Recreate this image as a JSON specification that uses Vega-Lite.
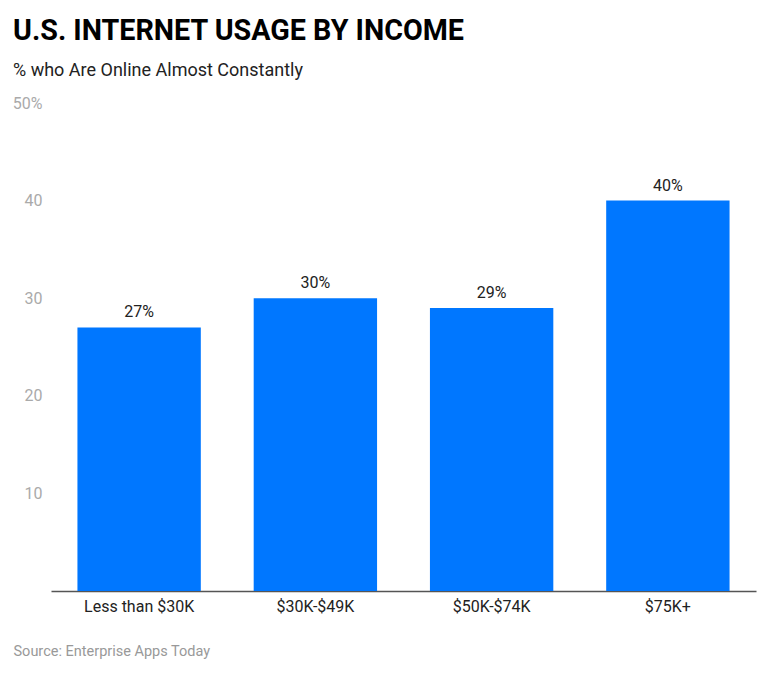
{
  "$schema": "https://vega.github.io/schema/vega-lite/v6.json",
  "width": 705,
  "height": 488,
  "autosize": "none",
  "padding": {"left": 51, "top": 103, "right": 12, "bottom": 82},
  "background": "white",
  "config": {"font": "Roboto", "view": {"stroke": null}},
  "title": {
    "text": "U.S. INTERNET USAGE BY INCOME",
    "subtitle": "% who Are Online Almost Constantly",
    "anchor": "start",
    "frame": "group",
    "dx": -38,
    "offset": 15,
    "fontSize": 28.7,
    "fontWeight": "bold",
    "color": "#000000",
    "subtitleFontSize": 18,
    "subtitleColor": "#222222",
    "subtitlePadding": 16
  },
  "data": {
    "values": [
      {"income": "Less than $30K", "pct": 27},
      {"income": "$30K-$49K", "pct": 30},
      {"income": "$50K-$74K", "pct": 29},
      {"income": "$75K+", "pct": 40}
    ]
  },
  "transform": [{"calculate": "datum.pct + '%'", "as": "label"}],
  "encoding": {
    "x": {
      "field": "income",
      "type": "nominal",
      "sort": null,
      "scale": {"paddingInner": 0.3, "paddingOuter": 0.15},
      "axis": {
        "title": "Source: Enterprise Apps Today",
        "titleX": -38,
        "titleY": 60,
        "titleAnchor": "start",
        "titleAlign": "left",
        "titleBaseline": "middle",
        "titleFontSize": 14.5,
        "titleFontWeight": "normal",
        "titleColor": "#999999",
        "labelAngle": 0,
        "labelFontSize": 16,
        "labelColor": "#222222",
        "labelPadding": 7,
        "ticks": false,
        "domainColor": "#555555",
        "domainWidth": 1.5
      }
    },
    "y": {
      "field": "pct",
      "type": "quantitative",
      "scale": {"domain": [0, 50]},
      "axis": {
        "title": null,
        "values": [0, 10, 20, 30, 40, 50],
        "labelExpr": "datum.value == 50 ? '50%' : (datum.value == 0 ? '' : datum.label)",
        "grid": false,
        "domain": false,
        "ticks": false,
        "labelPadding": 9,
        "labelFontSize": 16,
        "labelColor": "#aaaaaa"
      }
    }
  },
  "layer": [
    {"mark": {"type": "bar", "color": "#0077ff"}},
    {
      "mark": {"type": "text", "baseline": "bottom", "dy": -7, "fontSize": 16, "color": "#222222"},
      "encoding": {"text": {"field": "label", "type": "nominal"}}
    }
  ]
}
